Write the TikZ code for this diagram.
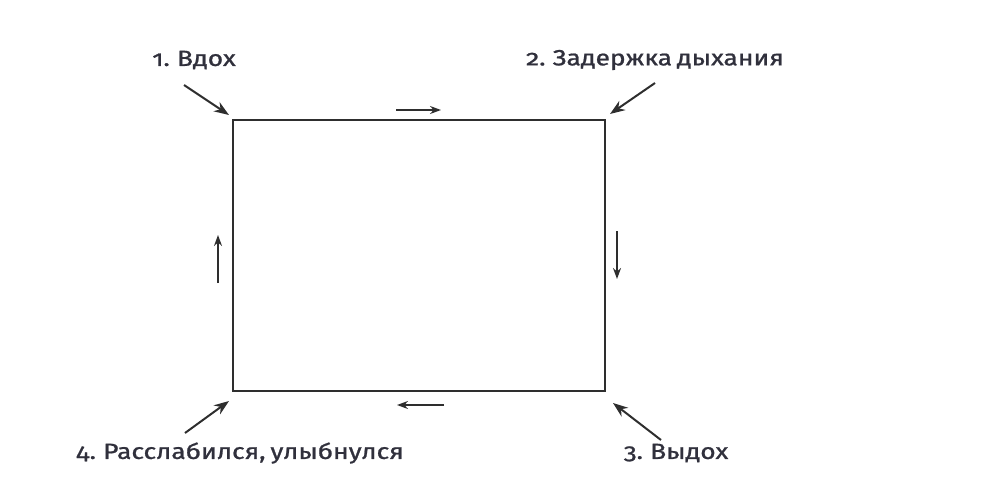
\documentclass[tikz,border=0pt]{standalone}
\usepackage{fontspec}
\newfontfamily\lblfont[Numbers=OldStyle,FakeBold=0.9,WordSpace=0.7]{Fira Sans}
\usetikzlibrary{arrows.meta}
\definecolor{txt}{HTML}{30303C}
\definecolor{ln}{HTML}{2E2E2E}
\begin{document}
\begin{tikzpicture}[x=1pt,y=-1pt,
  lbl/.style={font=\lblfont\fontsize{22}{25}\selectfont, text=txt, inner sep=0pt, xscale=1.2},
  ptr/.style={-{Stealth[length=15pt,width=11pt]}, line width=2pt, draw=ln},
  flow/.style={-{Stealth[length=11pt,width=8pt]}, line width=1.7pt, draw=ln}]
\useasboundingbox (0,0) rectangle (998,496);
\coordinate (A) at (233,120);
\coordinate (B) at (605,120);
\coordinate (C) at (605,391);
\coordinate (D) at (233,391);
\draw[line width=2.4pt, draw=ln] (A) -- (B) -- (C) -- (D) -- cycle;
\node[lbl] (l1) at (194,60) {1. Вдох};
\node[lbl] (l2) at (655,60) {2. Задержка дыхания};
\node[lbl] (l3) at (676,453) {3. Выдох};
\node[lbl] (l4) at (240,453) {4. Расслабился, улыбнулся};
\coordinate (s1) at (184,85);  \coordinate (e1) at (229,115);
\coordinate (s2) at (655,83);  \coordinate (e2) at (610,114);
\coordinate (s3) at (661,440); \coordinate (e3) at (613,403);
\coordinate (s4) at (185,433); \coordinate (e4) at (229,401);
\draw[ptr] (s1) -- (e1);
\draw[ptr] (s2) -- (e2);
\draw[ptr] (s3) -- (e3);
\draw[ptr] (s4) -- (e4);
\coordinate (t1) at (396,110); \coordinate (t2) at (441,110);
\coordinate (r1) at (617,231); \coordinate (r2) at (617,279);
\coordinate (b1) at (444,405); \coordinate (b2) at (397,405);
\coordinate (f1) at (218,283); \coordinate (f2) at (218,235);
\draw[flow] (t1) -- (t2);
\draw[flow] (r1) -- (r2);
\draw[flow] (b1) -- (b2);
\draw[flow] (f1) -- (f2);
\end{tikzpicture}
\end{document}
